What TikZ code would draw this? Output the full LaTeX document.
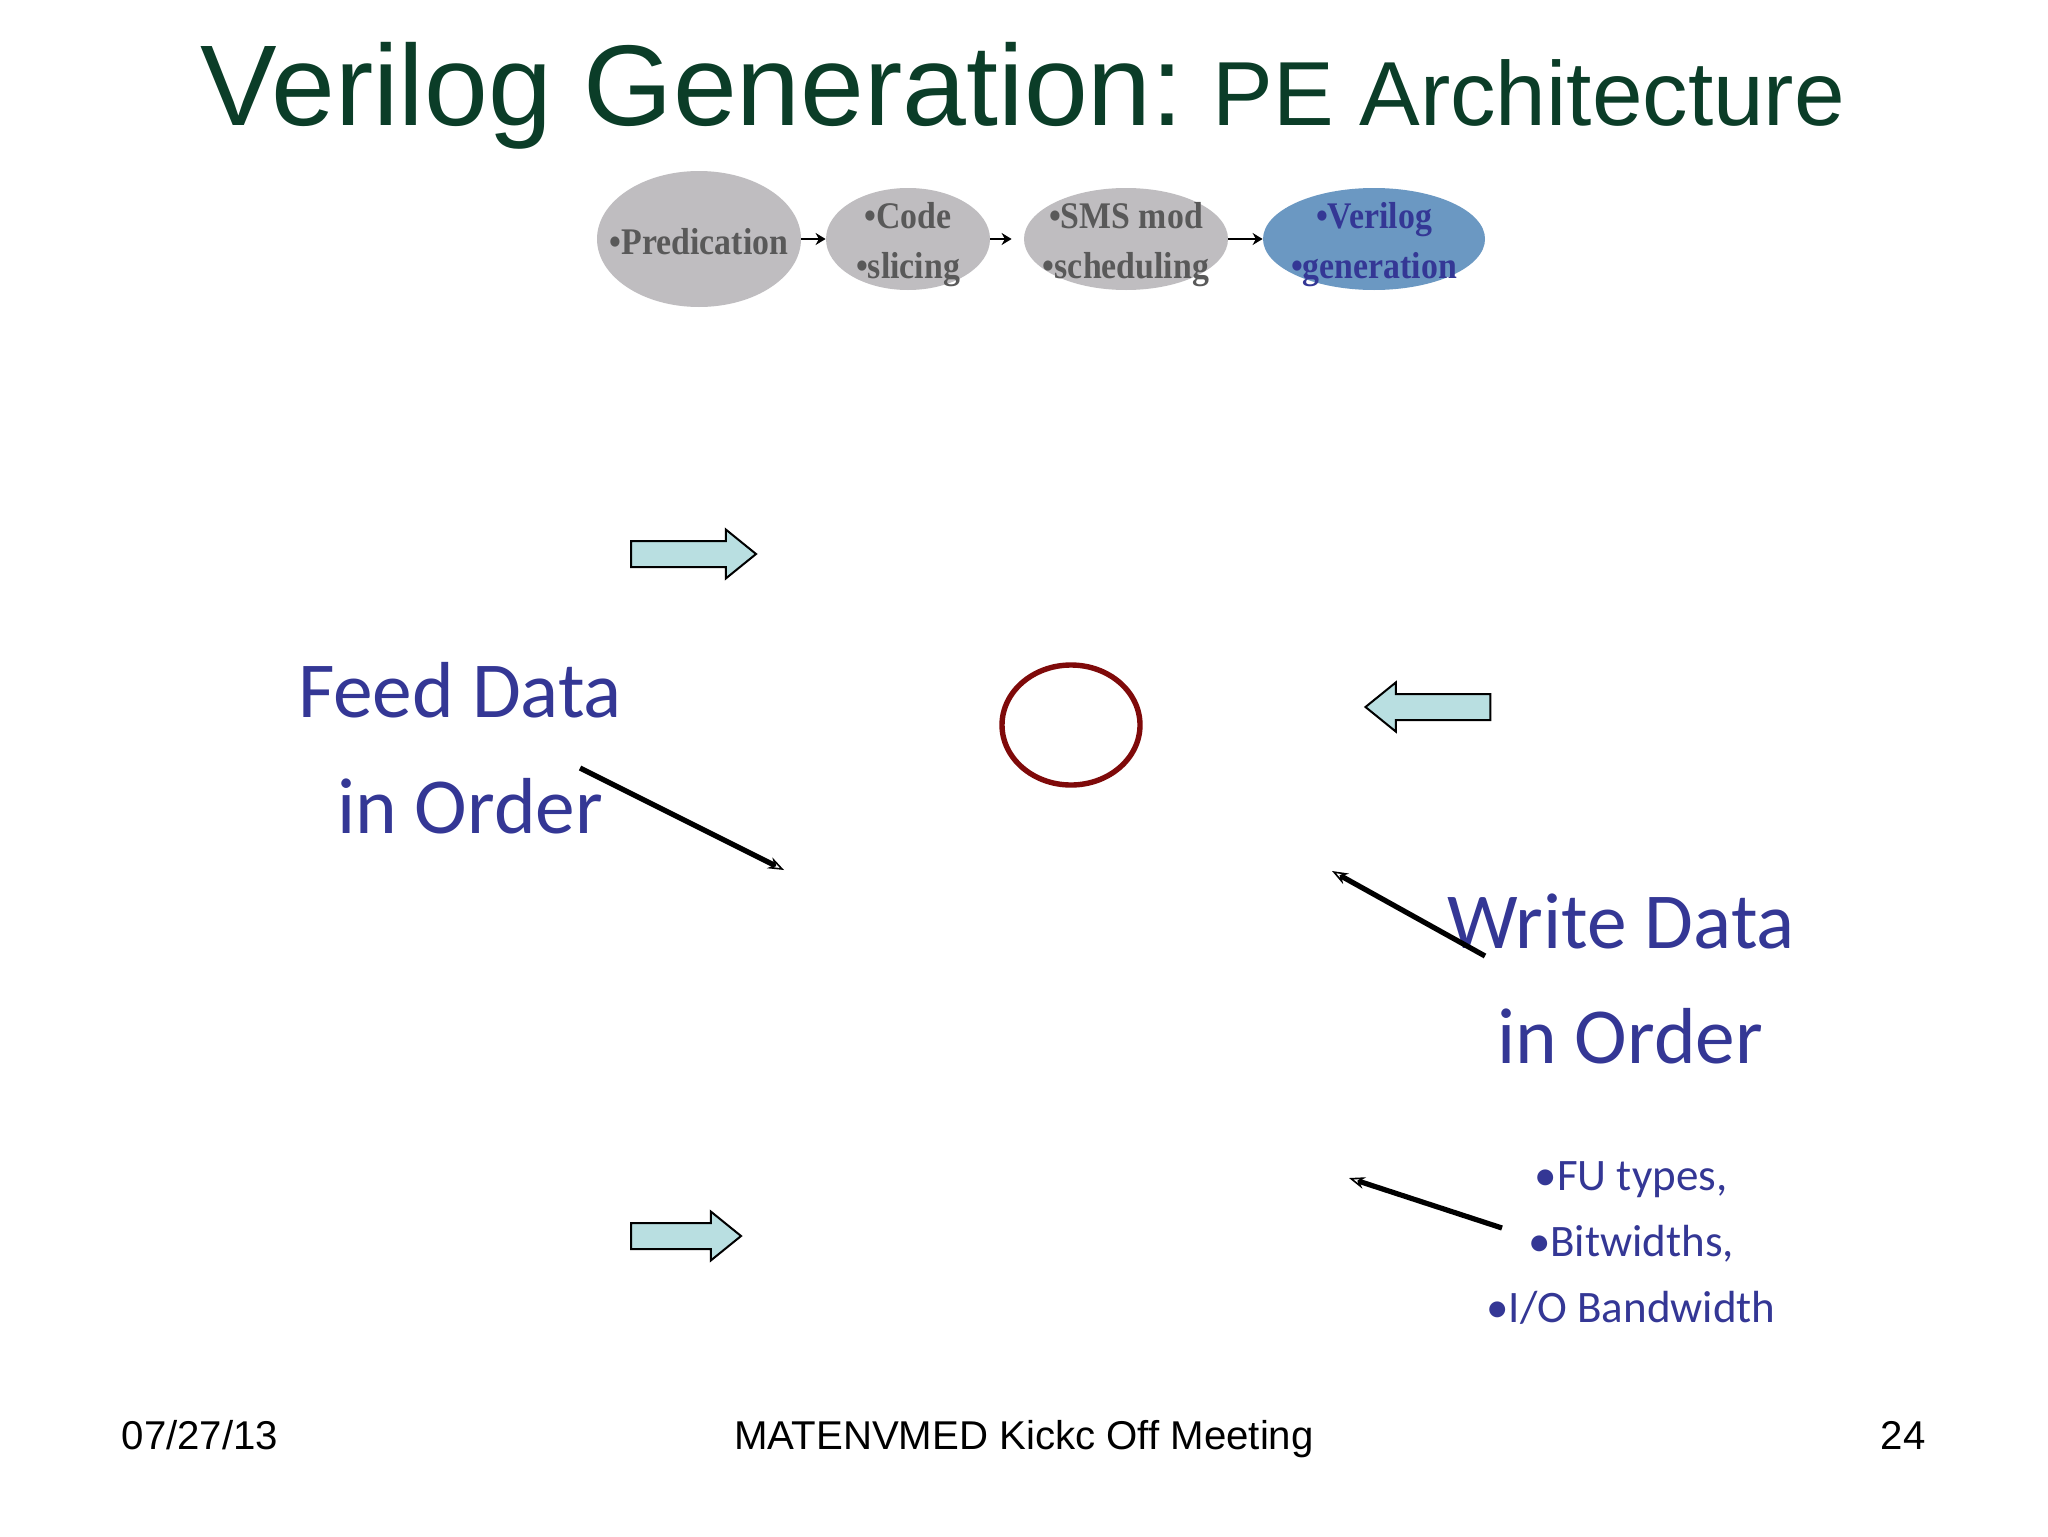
\documentclass[tikz,border=0pt]{standalone}
\usepackage{fontspec}
\setmainfont{Liberation Sans}
\newfontfamily\stepfont[FakeStretch=0.9]{Liberation Serif}
\newfontfamily\labelfont{Carlito}
\usetikzlibrary{arrows.meta,shapes.geometric,shapes.arrows}
\definecolor{titlegreen}{HTML}{0B3D28}
\definecolor{stepgray}{HTML}{BFBDC0}
\definecolor{steptext}{HTML}{595959}
\definecolor{stepblue}{HTML}{6B98C2}
\definecolor{labelblue}{HTML}{343795}
\definecolor{bigarrow}{HTML}{B9DFE1}
\definecolor{ringred}{HTML}{7F0A0A}
\tikzset{
  stepnode/.style={ellipse,fill=stepgray,inner sep=0pt},
  steplabel/.style={text=steptext,align=center,inner sep=0pt,yshift=-3pt,
    font=\stepfont\bfseries\fontsize{18.8}{25}\selectfont},
  stepline/.style={-{Stealth[length=5pt,width=6pt]},line width=1.2pt},
  bigarrownode/.style={single arrow,draw=black,line width=1pt,fill=bigarrow,inner sep=0pt,
    single arrow tip angle=78,single arrow head extend=5.75pt,single arrow head indent=0pt},
  blackline/.style={-{Stealth[length=8pt,width=6pt,line width=0.8pt,fill=white]},line width=2.6pt},
  biglabel/.style={anchor=base,text=labelblue,font=\labelfont\fontsize{39.7}{39.7}\selectfont},
  footnode/.style={anchor=base,font=\fontsize{20.1}{20.1}\selectfont}
}
\begin{document}
\begin{tikzpicture}[x=0.5pt,y=-0.5pt]
\useasboundingbox[fill=white](0,0)rectangle(2048,1536);
\node[anchor=base,text=titlegreen](title)at(1023,126){\fontsize{57.4}{57.4}\selectfont Verilog Generation:\hspace{14.5pt}\fontsize{45.5}{45.5}\selectfont PE Architecture};
\node[stepnode,minimum width=102pt,minimum height=68pt,label={[steplabel,yshift=1.7pt]center:•Predication}](pred)at(699,239){};
\node[stepnode,minimum width=82pt,minimum height=51pt,label={[steplabel]center:•Code\\•slicing}](code)at(908,239){};
\node[stepnode,minimum width=102pt,minimum height=51pt,label={[steplabel]center:•SMS mod\\•scheduling}](sms)at(1126,239){};
\node[stepnode,fill=stepblue,minimum width=111pt,minimum height=51pt,label={[steplabel,text=labelblue]center:•Verilog\\•generation}](veri)at(1374,239){};
\foreach \a/\b/\s in {pred/code/0pt,code/sms/6pt,sms/veri/0pt}{\draw[stepline,shorten >=\s](\a)--(\b);}
\foreach \y/\l/\n in {554/125/feedarrow,1236/110/modarrow}{\node[bigarrownode,minimum height=\l*0.5pt](\n)at(623+\l/2,\y){\rule{0pt}{12pt}};}
\node[bigarrownode,minimum height=62.5pt,shape border rotate=180](writearrow)at(1436,707){\rule{0pt}{12pt}};
\node[draw=ringred,line width=2.7pt,ellipse,minimum width=69pt,minimum height=60pt,inner sep=0pt](ring)at(1071,725){};
\foreach \x/\y/\t/\n in {460/717/Feed Data/feeda,470/833/in Order/feedb,1621/948/Write Data/writea,1630/1063/in Order/writeb}{\node[biglabel](\n)at(\x,\y){\t};}
\node[anchor=center,text=labelblue,align=center,font=\labelfont\fontsize{22.5}{33}\selectfont](futypes)at(1631,1243){•FU types,\\•Bitwidths,\\•I/O Bandwidth};
\coordinate(feedstart)at(580,768);\coordinate(feedend)at(784,870);
\coordinate(writestart)at(1485,956);\coordinate(writeend)at(1332,871);
\coordinate(fustart)at(1502,1228);\coordinate(fuend)at(1349,1178);
\foreach \a/\b in {feedstart/feedend,writestart/writeend,fustart/fuend}{\draw[blackline](\a)--(\b);}
\node[footnode](date)at(200,1449){07/27/13};
\node[footnode](meeting)at(1024,1449){MATENVMED Kickc Off Meeting};
\node[footnode](page)at(1903,1449){24};
\end{tikzpicture}
\end{document}
